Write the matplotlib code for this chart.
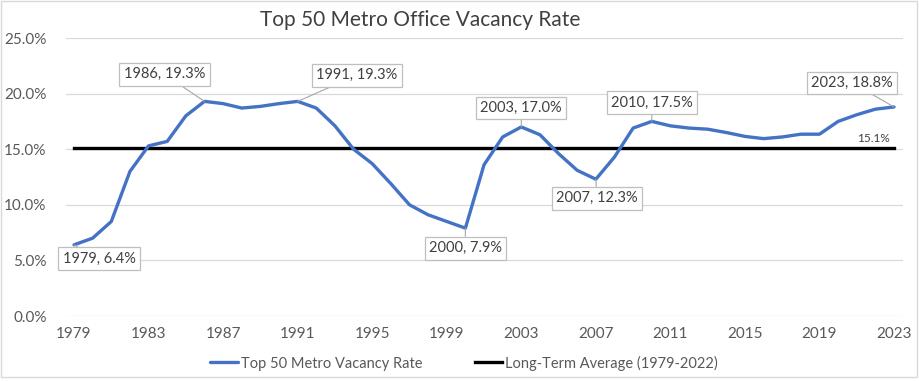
import numpy as np
import matplotlib.pyplot as plt
from matplotlib.patches import Rectangle
from matplotlib.ticker import FuncFormatter

plt.rcParams['font.family'] = ['Lato', 'DejaVu Sans']

# Data
years = np.arange(1979, 2024)
vacancy = [6.4, 7.0, 8.5, 13.0, 15.3, 15.7, 18.0, 19.3, 19.1, 18.7,
           18.85, 19.1, 19.3, 18.7, 17.1, 15.0, 13.7, 11.9, 10.0, 9.1,
           8.5, 7.9, 13.6, 16.1, 17.0, 16.3, 14.6, 13.1, 12.3, 14.3,
           16.9, 17.5, 17.1, 16.9, 16.8, 16.5, 16.15, 15.95, 16.1, 16.35,
           16.35, 17.5, 18.1, 18.6, 18.8]
long_term_avg = 15.1

label_years = [1979, 1986, 1991, 2000, 2003, 2007, 2010, 2023]
# label offsets in pixels relative to the point
label_offsets = [(25, -14), (-40, 27), (59, 26), (0, -20),
                 (0, 19), (1, -19), (0, 19), (-42, 24)]

W, H = 920, 381
fig = plt.figure(figsize=(W / 100, H / 100), dpi=100)
ax = fig.add_axes([66 / W, 1 - 316 / H, (903 - 66) / W, (316 - 38) / H])

blue = '#4472C4'
grey_txt = '#595959'

ax.plot(years, vacancy, color=blue, lw=2.4, label='Top 50 Metro Vacancy Rate',
        solid_capstyle='round', zorder=3)
ax.plot(years, [long_term_avg] * len(years), color='black', lw=2.4,
        label='Long-Term Average (1979-2022)', zorder=2)

ax.set_xlim(1978.57, 2023.48)
ax.set_ylim(0, 25)
ax.set_yticks(np.arange(0, 25.1, 5))
ax.set_xticks(np.arange(1979, 2024, 4))
ax.yaxis.set_major_formatter(FuncFormatter(lambda v, p: f'{v:.1f}%'))
ax.grid(axis='y', color='#d9d9d9', lw=0.9)
ax.set_axisbelow(True)
for s in ax.spines.values():
    s.set_visible(False)
ax.tick_params(axis='both', length=0, labelsize=11, colors=grey_txt)
ax.tick_params(axis='y', pad=14)
ax.tick_params(axis='x', pad=8)

for yr, (dx, dy) in zip(label_years, label_offsets):
    v = vacancy[yr - 1979]
    ax.annotate(f'{yr}, {v:.1f}%', xy=(yr, v), xytext=(dx, dy),
                textcoords='offset pixels', ha='center', va='center',
                fontsize=10.5, color='#404040', zorder=5,
                bbox=dict(boxstyle='square,pad=0.3', fc='white', ec='#bfbfbf', lw=0.9),
                arrowprops=dict(arrowstyle='-', color='#a6a6a6', lw=0.8,
                                shrinkA=0, shrinkB=0))

ax.annotate(f'{long_term_avg:.1f}%', xy=(years[-1], long_term_avg), xytext=(-21, 10),
            textcoords='offset pixels', ha='center', va='center',
            fontsize=8.5, color='#404040')

fig.text(420 / W, 1 - 20 / H, 'Top 50 Metro Office Vacancy Rate',
         ha='center', va='center', fontsize=15, color='#404040')

fig.legend(loc='center', bbox_to_anchor=(464 / W, 1 - 363 / H), ncol=2,
           frameon=False, fontsize=10.5, handlelength=1.9, handletextpad=0.2,
           columnspacing=3.6, labelcolor=grey_txt)

fig.patches.append(Rectangle((1 / W, 4 / H), 916 / W, 1 - 5 / H,
                             transform=fig.transFigure, fill=False,
                             ec='#d9d9d9', lw=1.0))

fig.savefig('out.png', dpi=100)
